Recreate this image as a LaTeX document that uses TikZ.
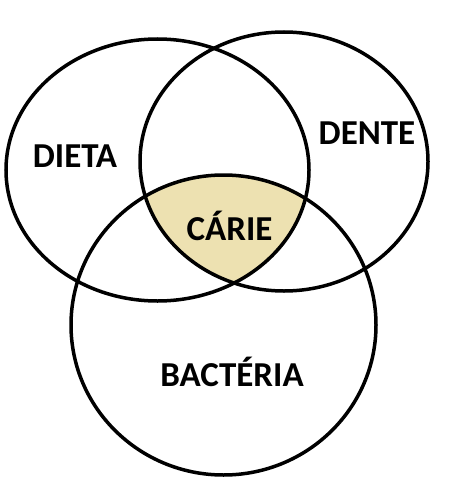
\documentclass[tikz,border=0pt]{standalone}
\usepackage{fontspec}
\setmainfont{Carlito}
\definecolor{carie}{RGB}{237,225,177}
\begin{document}
\begin{tikzpicture}[x=1pt,y=-1pt,line width=3.5pt]
		\newcommand{\mylabel}[1]{
			\fontsize{35}{42}\selectfont\bfseries{#1}
		}%Page frame
		\useasboundingbox (0,0) rectangle (450,487);
		%Centres of the three sets
		\coordinate (dieta) at (157.5,170);
		\coordinate (dente) at (284,161.5);
		\coordinate (bacteria) at (223.5,325);
		%Common part of the three sets
		\begin{scope}
			\clip (dieta) ellipse [x radius=151.5, y radius=131];
			\clip (dente) ellipse [x radius=144, y radius=129.5];
			\fill [carie] (bacteria) ellipse [x radius=152.5, y radius=150];
		\end{scope}
		%Outlines of the sets
		\draw (dieta) ellipse [x radius=151.5, y radius=131];
		\draw (dente) ellipse [x radius=144, y radius=129.5];
		\draw (bacteria) ellipse [x radius=152.5, y radius=150];
		%Names of the sets
		\node (dietaLabel) at (75,156) {\mylabel{DIETA}};
		\node (denteLabel) at (367,133) {\mylabel{DENTE}};
		\node (carieLabel) at (229.5,226) {\mylabel{CÁRIE}};
		\node (bacteriaLabel) at (232,372) {\mylabel{BACTÉRIA}};
		\end{tikzpicture}
\end{document}
